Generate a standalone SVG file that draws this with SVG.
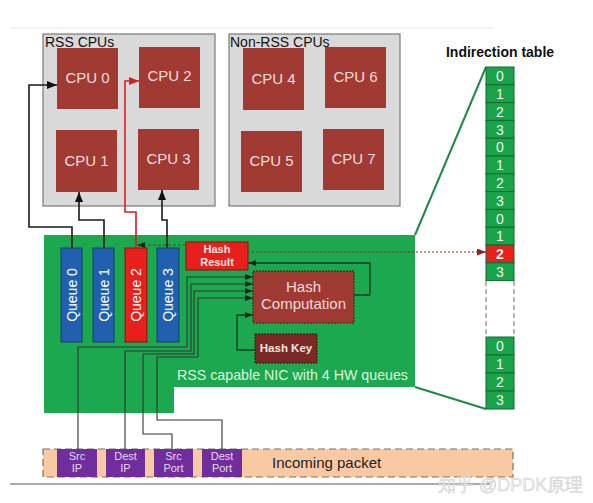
<svg xmlns="http://www.w3.org/2000/svg" width="593" height="503" viewBox="0 0 593 503">
<style>
text{font-family:"Liberation Sans",Arial,sans-serif}
.grp{fill:#d9d9d9;stroke:#7a7a7a;stroke-width:1.2}
.grpl{font-size:14px;fill:#111}
.cpu{fill:#a03a33}
.cput{font-size:15px;fill:#f5dede;text-anchor:middle}
.q{stroke:#1b3d6e;stroke-width:1}
.qt{font-size:14px;fill:#fff;text-anchor:middle}
.cell{fill:#1ba34c;stroke:#0e6a2f;stroke-width:1}
.ct{font-size:14px;fill:#e9f7ea;text-anchor:middle}
.ln{fill:none;stroke:#1a1a1a;stroke-width:1.6}
.pl{fill:none;stroke:#333;stroke-width:1.1}
.fld{fill:#6f2e9c}
.ft{font-size:11px;fill:#e6d8f5;text-anchor:middle}
</style>
<defs>
<marker id="ab" markerUnits="userSpaceOnUse" markerWidth="10" markerHeight="8" refX="10" refY="4" orient="auto"><path d="M0,0 L10,4 L0,8 z" fill="#111"/></marker>
<marker id="ar" markerUnits="userSpaceOnUse" markerWidth="10" markerHeight="8" refX="10" refY="4" orient="auto"><path d="M0,0 L10,4 L0,8 z" fill="#d42020"/></marker>
<marker id="as" markerUnits="userSpaceOnUse" markerWidth="8" markerHeight="6" refX="8" refY="3" orient="auto"><path d="M0,0 L8,3 L0,6 z" fill="#0f2a18"/></marker>
<marker id="ad" markerUnits="userSpaceOnUse" markerWidth="9" markerHeight="7" refX="9" refY="3.5" orient="auto"><path d="M0,0 L9,3.5 L0,7 z" fill="#9a2020"/></marker>
</defs>
<rect width="593" height="503" fill="#fff"/>
<line x1="10" y1="28" x2="493" y2="28" stroke="#e6e6e6" stroke-width="1"/>
<line x1="10" y1="484" x2="490" y2="484" stroke="#555" stroke-width="1"/>

<g id="rss-cpus">
<rect class="grp" x="43" y="34" width="172" height="172"/>
<text class="grpl" x="45" y="47">RSS CPUs</text>
<g id="cpu0"><rect class="cpu" x="57" y="48" width="61" height="61"/><text class="cput" x="87.5" y="83">CPU 0</text></g>
<g id="cpu2"><rect class="cpu" x="139" y="47" width="61" height="61"/><text class="cput" x="169.5" y="81">CPU 2</text></g>
<g id="cpu1"><rect class="cpu" x="56" y="130" width="61" height="62"/><text class="cput" x="86.5" y="166">CPU 1</text></g>
<g id="cpu3"><rect class="cpu" x="138" y="129" width="61" height="61"/><text class="cput" x="168.5" y="164">CPU 3</text></g>
</g>
<g id="nonrss-cpus">
<rect class="grp" x="229" y="34" width="171" height="172"/>
<text class="grpl" x="230" y="47">Non-RSS CPUs</text>
<g id="cpu4"><rect class="cpu" x="243" y="48" width="61" height="62"/><text class="cput" x="273.5" y="84">CPU 4</text></g>
<g id="cpu6"><rect class="cpu" x="325" y="47" width="61" height="61"/><text class="cput" x="355.5" y="82">CPU 6</text></g>
<g id="cpu5"><rect class="cpu" x="241" y="131" width="61" height="61"/><text class="cput" x="271.5" y="166">CPU 5</text></g>
<g id="cpu7"><rect class="cpu" x="323" y="129" width="61" height="61"/><text class="cput" x="353.5" y="164">CPU 7</text></g>
</g>

<g id="trapezoid">
<line x1="415" y1="235" x2="486" y2="67" stroke="#1e8a4a" stroke-width="2"/>
<line x1="415" y1="387" x2="486" y2="409" stroke="#1e8a4a" stroke-width="2"/>
</g>

<g id="nic">
<path d="M44,235 H415 V387 H174 V413 H44 Z" fill="#1ba84e"/>
<text x="177" y="380" font-size="15" fill="#dff3df" textLength="231" lengthAdjust="spacingAndGlyphs">RSS capable NIC with 4 HW queues</text>
</g>

<g id="indirection-table">
<text x="500" y="57" font-size="14" font-weight="bold" fill="#111" text-anchor="middle">Indirection table</text>
<rect class="cell" x="486" y="67" width="28" height="17.8"/><text class="ct" x="500" y="81">0</text>
<rect class="cell" x="486" y="84.8" width="28" height="17.8"/><text class="ct" x="500" y="99">1</text>
<rect class="cell" x="486" y="102.6" width="28" height="17.8"/><text class="ct" x="500" y="117">2</text>
<rect class="cell" x="486" y="120.4" width="28" height="17.8"/><text class="ct" x="500" y="135">3</text>
<rect class="cell" x="486" y="138.2" width="28" height="17.8"/><text class="ct" x="500" y="152">0</text>
<rect class="cell" x="486" y="156" width="28" height="17.8"/><text class="ct" x="500" y="170">1</text>
<rect class="cell" x="486" y="173.8" width="28" height="17.8"/><text class="ct" x="500" y="188">2</text>
<rect class="cell" x="486" y="191.6" width="28" height="17.8"/><text class="ct" x="500" y="206">3</text>
<rect class="cell" x="486" y="209.4" width="28" height="17.8"/><text class="ct" x="500" y="224">0</text>
<rect class="cell" x="486" y="227.2" width="28" height="17.8"/><text class="ct" x="500" y="241">1</text>
<rect x="486" y="245" width="28" height="17.8" fill="#e8201c" stroke="#0e6a2f"/><text class="ct" x="500" y="259" font-weight="bold" fill="#fff">2</text>
<rect class="cell" x="486" y="262.8" width="28" height="17.8"/><text class="ct" x="500" y="277">3</text>
<path d="M486,281 V337 M514,281 V337" stroke="#888" stroke-width="1.2" stroke-dasharray="5,3" fill="none"/>
<rect class="cell" x="486" y="337" width="28" height="18"/><text class="ct" x="500" y="351">0</text>
<rect class="cell" x="486" y="355" width="28" height="18"/><text class="ct" x="500" y="369">1</text>
<rect class="cell" x="486" y="373" width="28" height="18"/><text class="ct" x="500" y="387">2</text>
<rect class="cell" x="486" y="391" width="28" height="18"/><text class="ct" x="500" y="405">3</text>
</g>

<g id="queue0"><rect class="q" x="61" y="248" width="21" height="94" fill="#2160ae"/><text class="qt" transform="translate(76.5,295) rotate(-90)">Queue 0</text></g>
<g id="queue1"><rect class="q" x="93" y="248" width="21" height="94" fill="#2160ae"/><text class="qt" transform="translate(108.5,295) rotate(-90)">Queue 1</text></g>
<g id="queue2"><rect x="125" y="248" width="22" height="94" fill="#e8201c" stroke="#8a1010"/><text class="qt" transform="translate(141,295) rotate(-90)">Queue 2</text></g>
<g id="queue3"><rect class="q" x="157" y="248" width="22" height="94" fill="#2160ae"/><text class="qt" transform="translate(173,295) rotate(-90)">Queue 3</text></g>

<g id="hash-result"><rect x="186" y="242" width="62" height="28" fill="#e8201c" stroke="#8a1010" stroke-width="1"/>
<text x="217" y="253" font-size="11" font-weight="bold" fill="#f7e6e6" text-anchor="middle">Hash</text>
<text x="217" y="266" font-size="11" font-weight="bold" fill="#f7e6e6" text-anchor="middle">Result</text></g>
<g id="hash-computation"><rect x="253" y="271" width="101" height="52" fill="#9f3a33" stroke="#4a1a16" stroke-width="1" stroke-dasharray="2,1"/>
<text x="303.5" y="292" font-size="15" fill="#f3dcd8" text-anchor="middle">Hash</text>
<text x="303.5" y="309" font-size="15" fill="#f3dcd8" text-anchor="middle">Computation</text></g>
<g id="hash-key"><rect x="255" y="334" width="62" height="29" fill="#7a2a24" stroke="#3a120f" stroke-width="1" stroke-dasharray="2,1"/>
<text x="286" y="352" font-size="11.5" font-weight="bold" fill="#f5e3e0" text-anchor="middle">Hash Key</text></g>

<g id="incoming-packet">
<rect x="43" y="449" width="470" height="28" fill="#f8c9a2" stroke="#7d7060" stroke-width="1.2" stroke-dasharray="7,4"/>
<text x="272" y="468" font-size="15" fill="#222">Incoming packet</text>
<g id="src-ip"><rect class="fld" x="57" y="449" width="40" height="28"/><text class="ft" x="77" y="460">Src</text><text class="ft" x="77" y="472">IP</text></g>
<g id="dest-ip"><rect class="fld" x="106" y="449" width="39" height="28"/><text class="ft" x="125.5" y="460">Dest</text><text class="ft" x="125.5" y="472">IP</text></g>
<g id="src-port"><rect class="fld" x="154" y="449" width="39" height="28"/><text class="ft" x="173.5" y="460">Src</text><text class="ft" x="173.5" y="472">Port</text></g>
<g id="dest-port"><rect class="fld" x="202" y="449" width="40" height="28"/><text class="ft" x="222" y="460">Dest</text><text class="ft" x="222" y="472">Port</text></g>
</g>

<g id="connectors">
<path class="ln" d="M72,248 V227 H29 V85 H57" marker-end="url(#ab)"/>
<path class="ln" d="M104,248 V220 H79 V192" marker-end="url(#ab)"/>
<path class="ln" d="M167,248 V220 H162 V190" marker-end="url(#ab)"/>
<path d="M136,248 V212 H125 V81 H139" fill="none" stroke="#d42020" stroke-width="1.6" marker-end="url(#ar)"/>
<path d="M186,245 H137" fill="none" stroke="#4a4a2a" stroke-width="1.2" stroke-dasharray="3,2" marker-end="url(#as)"/>
<path d="M248,252 H486" fill="none" stroke="#a02020" stroke-width="1" stroke-dasharray="2,2" marker-end="url(#ad)"/>
<path d="M354,295 H370 V263 H248" fill="none" stroke="#143a22" stroke-width="1.3" marker-end="url(#as)"/>
<path d="M255,350 H237 V315 H253" fill="none" stroke="#143a22" stroke-width="1.3" marker-end="url(#as)"/>
<path class="pl" d="M78,449 V347 H187 V277 H253" marker-end="url(#as)"/>
<path class="pl" d="M125,449 V351 H191 V284 H253" marker-end="url(#as)"/>
<path class="pl" d="M172,449 V434 H143 V354 H194 V291 H253" marker-end="url(#as)"/>
<path class="pl" d="M222,449 V420 H157 V357 H198 V298 H253" marker-end="url(#as)"/>
</g>

<text x="438" y="491" font-size="18" fill="#eeeeee" stroke="#cfcfcf" stroke-width="0.5" font-family="'Noto Sans CJK SC',sans-serif">知乎 @DPDK原理</text>
</svg>
